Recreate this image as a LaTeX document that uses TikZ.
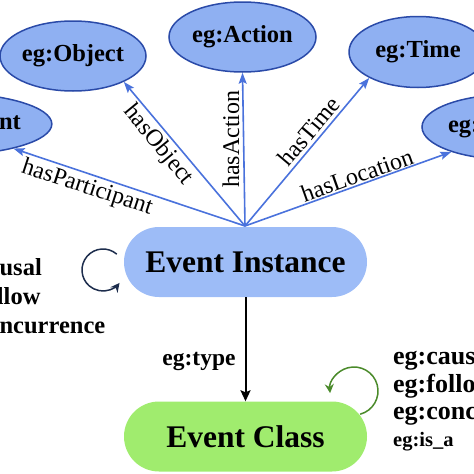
\documentclass[tikz,border=0pt]{standalone}
\usepackage{fontspec}
\setmainfont{Liberation Serif}
\usetikzlibrary{shapes.geometric,arrows.meta}
\definecolor{ellfill}{HTML}{8FB0F2}
\definecolor{ellline}{HTML}{2A4AA8}
\definecolor{eifill}{HTML}{9DBCF7}
\definecolor{ecfill}{HTML}{A0EC6E}
\definecolor{edgeblue}{HTML}{4A72DC}
\definecolor{loopnavy}{HTML}{1D2D4D}
\definecolor{loopgreen}{HTML}{4A8A2A}
\begin{document}
\begin{tikzpicture}[x=1pt,y=-1pt,
 ell/.style={ellipse, draw=ellline, line width=1.5pt, fill=ellfill, inner sep=0pt, font=\bfseries\fontsize{24.5}{28}\selectfont},
 stadium/.style={rectangle, rounded corners=35pt, minimum width=243pt, minimum height=70pt, inner sep=0pt, font=\bfseries\fontsize{31.5}{36}\selectfont},
 rel/.style={draw=edgeblue, line width=1.6pt, -{Stealth[length=11pt,width=8pt,inset=2pt]}},
 lab/.style={font=\fontsize{24}{27}\selectfont, inner sep=0pt},
 tag/.style={font=\bfseries\fontsize{24.5}{28}\selectfont, inner sep=0pt, anchor=base west},
 selfloop/.style={line width=1.5pt, -{Stealth[length=9pt,width=9pt]}},
]
\useasboundingbox (0,0) rectangle (474,474);
\clip (0,0) rectangle (474,474);
\node[ell, minimum width=190pt, minimum height=62pt] (par) at (-54,124) {eg:Participant};
\node[ell, minimum width=146pt, minimum height=70pt] (obj) at (73,56) {eg:Object};
\node[ell, minimum width=147pt, minimum height=70pt] (act) at (242.5,37) {eg:Action};
\node[ell, minimum width=138pt, minimum height=71pt] (tim) at (418,52) {eg:Time};
\node[ell, minimum width=176pt, minimum height=65pt] (loc) at (510,127) {eg:Location};
\node[stadium, fill=eifill] (ei) at (245.5,262) {Event Instance};
\node[stadium, fill=ecfill] (ec) at (245.5,436.5) {Event Class};
\coordinate (hub) at (245,226);
\draw[rel] (hub) -- (par.-20);
\draw[rel] (hub) -- (obj.-27);
\draw[rel] (hub) -- (act.south);
\draw[rel] (hub) -- (tim.208);
\draw[rel] (hub) -- (loc.203);
\node[lab, rotate=-18.1] (lpar) at (87,188) {hasParticipant};
\node[lab, rotate=-50.5] (lobj) at (158,145) {hasObject};
\node[lab, rotate=90] (lact) at (231,139) {hasAction};
\node[lab, rotate=49.8] (ltim) at (309,131) {hasTime};
\node[lab, rotate=19.7] (lloc) at (357,175) {hasLocation};
\draw[line width=2pt, -{Stealth[length=11pt,width=10pt,inset=2pt]}] (ei.south) -- (ec.north);
\node[font=\bfseries\fontsize{23.5}{27}\selectfont, anchor=base, inner sep=0pt] (ltype) at (199,365) {eg:type};
\draw[selfloop, loopnavy] (103,270) ++(49:21pt) arc[start angle=49, end angle=322, radius=21pt];
\draw[selfloop, loopgreen] (354,391) ++(-75:24pt) arc[start angle=-75, end angle=185, radius=24pt];
\node[tag] (l1) at (-55,275) {eg:causal};
\node[tag] (l2) at (-55,304) {eg:follow};
\node[tag] (l3) at (-55,333) {eg:concurrence};
\node[tag, font=\bfseries\fontsize{26}{30}\selectfont] (r1) at (393,364) {eg:causal};
\node[tag, font=\bfseries\fontsize{26}{30}\selectfont] (r2) at (393,392) {eg:follow};
\node[tag, font=\bfseries\fontsize{26}{30}\selectfont] (r3) at (393,419) {eg:concurrence};
\node[tag, font=\bfseries\fontsize{20.5}{24}\selectfont] (r4) at (393,446) {eg:is\_a};
\end{tikzpicture}
\end{document}
